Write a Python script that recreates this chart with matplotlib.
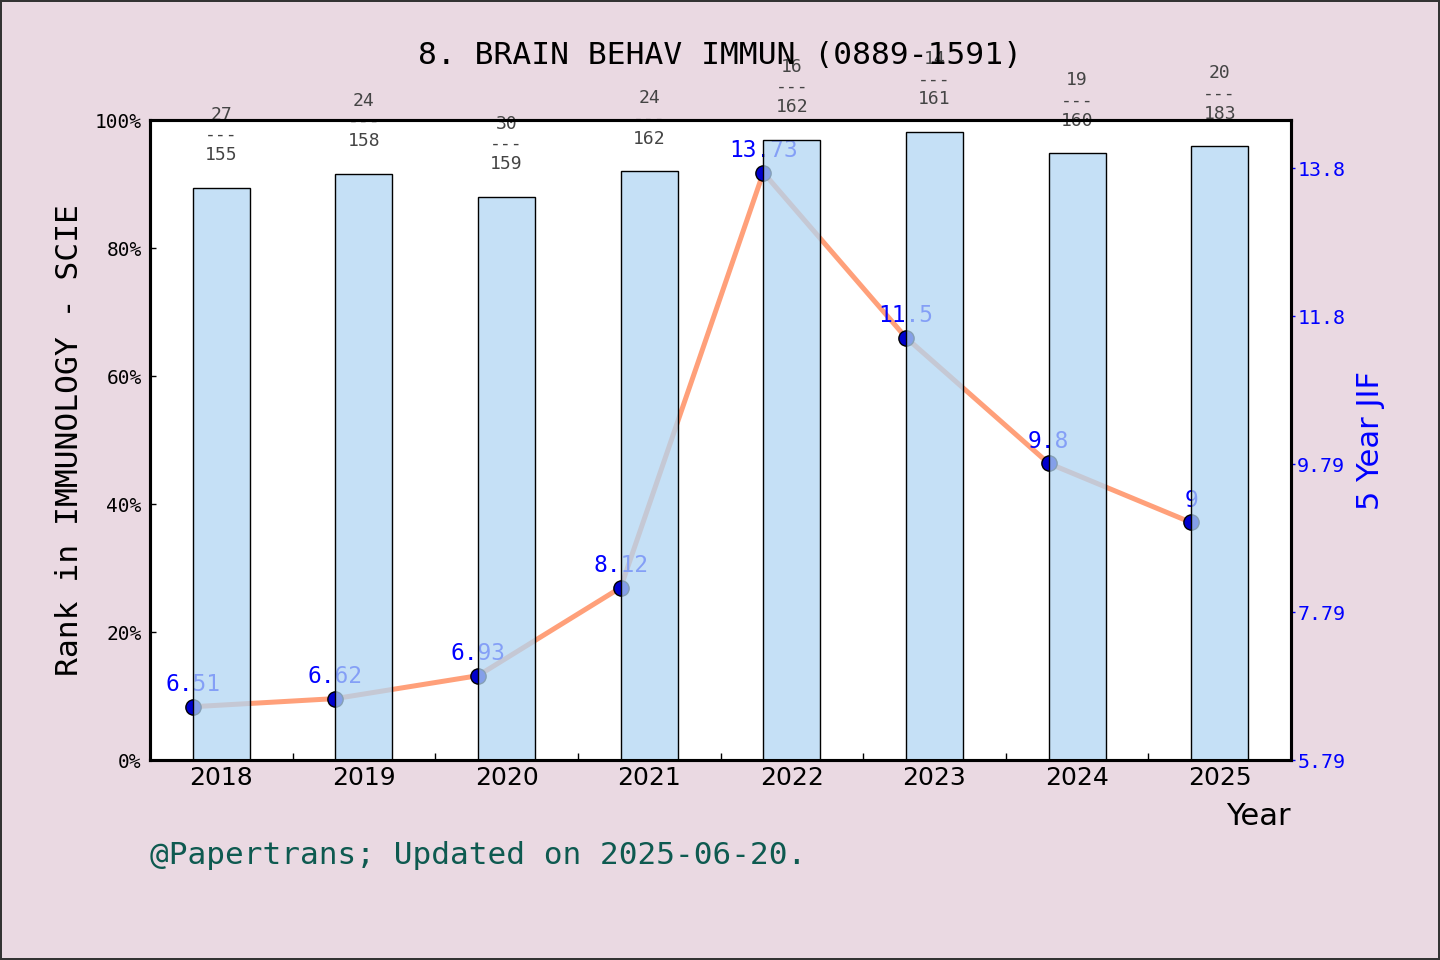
import matplotlib
matplotlib.use("Agg")
import matplotlib.pyplot as plt
import numpy as np

# data
years = ["2018", "2019", "2020", "2021", "2022", "2023", "2024", "2025"]
jif = [6.51, 6.62, 6.93, 8.12, 13.73, 11.5, 9.8, 9]
rank_pct = [89.4, 91.6, 88.0, 92.0, 96.9, 98.1, 94.8, 95.9]
rank = [27, 24, 30, 24, 16, 14, 19, 20]
total = [155, 158, 159, 162, 162, 161, 160, 183]

mono = "DejaVu Sans Mono"
bg = "#EAD9E2"

fig = plt.figure(figsize=(14.4, 9.6), dpi=100, facecolor=bg,
                 edgecolor="#333333", linewidth=1.5)
ax = fig.add_axes([150 / 1440, 200 / 960, 1141 / 1440, 640 / 960])
ax2 = ax.twinx()

# line axis sits under the bar axis, so the bars tint it
ax.set_zorder(ax2.get_zorder() + 1)
ax.patch.set_visible(False)
ax2.patch.set_visible(True)
ax2.patch.set_facecolor("white")

x = np.arange(len(years))

# JIF line (right axis)
ax2.plot(x - 0.2, jif, color="#FFA07A", lw=3.6, zorder=2)
ax2.plot(x - 0.2, jif, "o", ms=11, mfc="#0000CD", mec="black", mew=1, zorder=3)
for xi, v in zip(x, jif):
    ax2.annotate(f"{v:g}", (xi - 0.2, v), xytext=(0, 11), textcoords="offset points",
                 ha="center", va="baseline", fontsize=16.5, family=mono, color="blue")

lo, hi = 5.79, 14.44
ax2.set_ylim(lo, hi)
rt = [lo + 2 * k for k in range(5)]
ax2.set_yticks(rt)
ax2.set_yticklabels([f"{t:.3g}" for t in rt], family=mono, fontsize=14.4, color="blue")
ax2.tick_params(axis="y", direction="out", length=3, width=1, color="blue", pad=1.5)
ax2.set_ylabel("5 Year JIF", color="blue", fontsize=22, labelpad=8)

# rank bars (left axis)
ax.bar(x, rank_pct, width=0.4, facecolor=(178 / 255, 214 / 255, 243 / 255, 0.75),
       edgecolor="black", linewidth=1, zorder=1)
for xi, h, r, t in zip(x, rank_pct, rank, total):
    ax.annotate(f"{r}\n---\n{t}", (xi, h), xytext=(0, 38), textcoords="offset points",
                ha="center", va="center", fontsize=13, family=mono, color="#444444",
                linespacing=1.15, zorder=2, annotation_clip=False)

ax.set_ylim(0, 100)
ax.set_yticks(range(0, 101, 20))
ax.set_yticklabels([f"{t}%" for t in range(0, 101, 20)], family=mono, fontsize=14)
ax.tick_params(axis="y", direction="in", length=4, width=1, pad=6)
ax.set_ylabel("Rank in IMMUNOLOGY - SCIE", family=mono, fontsize=22.6, labelpad=8)

ax.set_xlim(-0.5, len(years) - 0.5)
ax.set_xticks(x)
ax.set_xticklabels(years, fontsize=18)
ax.set_xticks(x[:-1] + 0.5, minor=True)
ax.tick_params(axis="x", which="major", length=0, pad=4)
ax.tick_params(axis="x", which="minor", direction="in", length=5, width=1)
ax.set_xlabel("Year", fontsize=22, loc="right", labelpad=9)

for a in (ax, ax2):
    for s in a.spines.values():
        s.set_linewidth(2.2)

fig.text(0.5, 1 - 56 / 960, "8. BRAIN BEHAV IMMUN (0889-1591)", ha="center",
         va="center", fontsize=22.5, family=mono)
fig.text(150 / 1440, 1 - 855 / 960, "@Papertrans; Updated on 2025-06-20.", ha="left",
         va="center", fontsize=22.4, family=mono, color="#0E5A50")

fig.savefig("out.png", dpi=100, facecolor=fig.get_facecolor(),
            edgecolor=fig.get_edgecolor())
